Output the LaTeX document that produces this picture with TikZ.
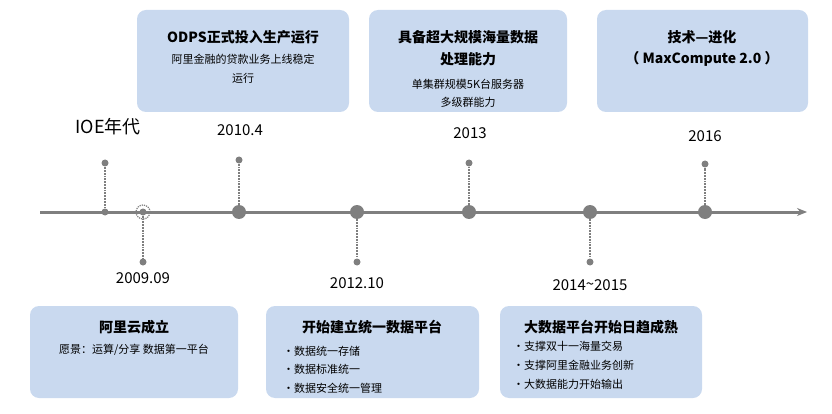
\documentclass[tikz,border=0pt]{standalone}
\usepackage{fontspec}
\setmainfont{Noto Sans CJK SC}
\usetikzlibrary{arrows.meta}
\definecolor{boxc}{HTML}{C9D9EF}
\definecolor{linec}{HTML}{7F7F7F}
\tikzset{
 box/.style={fill=boxc,rounded corners=9pt,draw=none},
 ttl/.style={font=\bfseries\fontsize{14}{16}\selectfont,inner sep=0},
 sub/.style={font=\fontsize{11}{13}\selectfont,inner sep=0},
 lbl/.style={font=\fontsize{15}{17}\selectfont,inner sep=0},
 big/.style={circle,fill=linec,minimum size=14pt,inner sep=0},
 sm/.style={circle,fill=linec,minimum size=7pt,inner sep=0},
 dot/.style={linec,densely dotted,line width=1.8pt},
}
\begin{document}
\begin{tikzpicture}[x=1pt,y=-1pt]
\useasboundingbox (0,0) rectangle (832,414);
% boxes
\fill[box] (137,10) rectangle (349,112);
\fill[box] (369,10) rectangle (567,112);
\fill[box] (597,10) rectangle (808,112);
\fill[box] (30,306) rectangle (238,398);
\fill[box] (266,306) rectangle (479,398);
\fill[box] (500,306) rectangle (702,398);
% timeline
\coordinate (ls) at (40,212); \coordinate (le) at (807,212);
\draw[linec,line width=3pt,-{Stealth[length=10pt,width=8pt]}] (ls) -- (le);
% events
\node[sm] (a0) at (105,212) {}; \node[sm] (a1) at (105,163) {};
\draw[dot] (a0) -- (a1);
\node[circle,draw=linec,densely dotted,line width=1.2pt,minimum size=14pt,inner sep=0] (b0) at (143,212) {};
\node[sm] (b00) at (143,212) {};
\node[sm] (b1) at (143,262) {}; \draw[dot] (b00) -- (b1);
\node[big] (c0) at (239,212) {}; \node[sm] (c1) at (239,160) {}; \draw[dot] (c0) -- (c1);
\node[big] (d0) at (357,212) {}; \node[sm] (d1) at (357,262) {}; \draw[dot] (d0) -- (d1);
\node[big] (e0) at (469,212) {}; \node[sm] (e1) at (469,163) {}; \draw[dot] (e0) -- (e1);
\node[big] (f0) at (590,212) {}; \node[sm] (f1) at (590,262) {}; \draw[dot] (f0) -- (f1);
\node[big] (g0) at (705,212) {}; \node[sm] (g1) at (705,164) {}; \draw[dot] (g0) -- (g1);
% labels
\node[lbl,font=\fontsize{18}{20}\selectfont] (la) at (108,127) {IOE年代};
\node[lbl] (lc) at (240,130) {2010.4};
\node[lbl] (le2) at (470,133) {2013};
\node[lbl] (lg) at (705,136) {2016};
\node[lbl] (lb) at (143,278) {2009.09};
\node[lbl] (ld) at (357,283) {2012.10};
\node[lbl] (lf) at (590,285) {2014\raisebox{1pt}{\char`~}2015};
% top texts
\node[ttl] (t1) at (243,37) {ODPS正式投入生产运行};
\node[sub] (t1a) at (243,59) {阿里金融的贷款业务上线稳定};
\node[sub] (t1b) at (243,78) {运行};
\node[ttl] (t2) at (468,37) {具备超大规模海量数据};
\node[ttl] (t2b) at (468,59) {处理能力};
\node[sub] (t2c) at (468,84) {单集群规模5K台服务器};
\node[sub] (t2d) at (468,102) {多级群能力};
\node[ttl] (t3) at (702,37) {技术—进化};
\node[ttl] (t3b) at (702,59) {（ MaxCompute 2.0 ）};
% bottom texts
\node[ttl] (u1) at (134,327) {阿里云成立};
\node[sub] (u1a) at (134,350) {愿景：运算/分享 数据第一平台};
\node[ttl] (u2) at (372,327) {开始建立统一数据平台};
\node[sub,anchor=west] (u2a) at (283,351) {•数据统一存储};
\node[sub,anchor=west] (u2b) at (283,369) {•数据标准统一};
\node[sub,anchor=west] (u2c) at (283,388) {•数据安全统一管理};
\node[ttl] (u3) at (601,327) {大数据平台开始日趋成熟};
\node[sub,anchor=west] (u3a) at (513,346) {•支撑双十一海量交易};
\node[sub,anchor=west] (u3b) at (513,365) {•支撑阿里金融业务创新};
\node[sub,anchor=west] (u3c) at (513,384) {•大数据能力开始输出};
\end{tikzpicture}
\end{document}
